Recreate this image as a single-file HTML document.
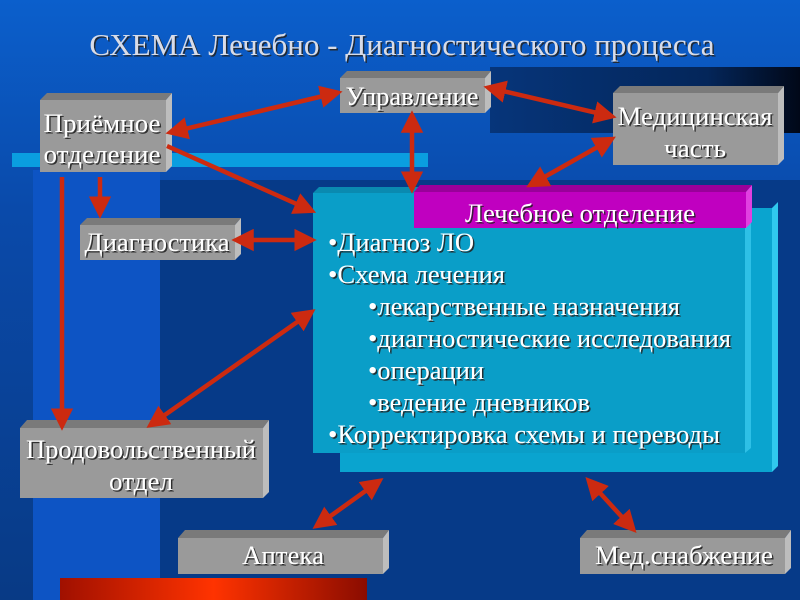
<!DOCTYPE html>
<html><head><meta charset="utf-8"><style>
html,body{margin:0;padding:0;width:800px;height:600px;overflow:hidden;background:#0a3d9a}
svg{display:block}
text{font-family:"Liberation Serif",serif;fill:#fff}
</style></head><body>
<svg width="800" height="600" viewBox="0 0 800 600">
<defs>
<linearGradient id="bg" x1="0" y1="0" x2="0" y2="1"><stop offset="0" stop-color="#0b5fcc"/><stop offset="0.35" stop-color="#0a4aaa"/><stop offset="1" stop-color="#083a85"/></linearGradient>
<linearGradient id="nav" x1="0" y1="0" x2="1" y2="0"><stop offset="0" stop-color="#06357a"/><stop offset="0.7" stop-color="#04265a"/><stop offset="1" stop-color="#010818"/></linearGradient>
<linearGradient id="red" x1="0" y1="0" x2="1" y2="0"><stop offset="0" stop-color="#a01000"/><stop offset="0.5" stop-color="#ff3300"/><stop offset="1" stop-color="#8a0c00"/></linearGradient>
<filter id="sh" x="-5%" y="-5%" width="110%" height="120%"><feDropShadow dx="1.5" dy="1.5" stdDeviation="0" flood-color="#222" flood-opacity="0.9"/></filter>
<marker id="ah" markerWidth="5" markerHeight="5" refX="3.5" refY="2.5" orient="auto-start-reverse" markerUnits="strokeWidth"><path d="M0,0 L5,2.5 L0,5 Z" fill="#cc2a10"/></marker>
</defs>
<rect width="800" height="600" fill="url(#bg)"/>
<rect x="160" y="180" width="640" height="420" fill="#063a88"/>
<rect x="33" y="170" width="127" height="430" fill="#0d54c4"/>
<rect x="490" y="67" width="310" height="66" fill="url(#nav)"/>
<rect x="12" y="153" width="416" height="14" fill="#0a9ee0"/>
<rect x="60" y="578" width="307" height="22" fill="url(#red)"/>

<text x="402" y="55" text-anchor="middle" font-size="31" style="fill:#d8dce8" filter="url(#sh)">СХЕМА Лечебно - Диагностического процесса</text>

<rect x="340" y="208" width="432" height="264" fill="#0aa4cf"/>
<polygon points="772,208 778,202 778,466 772,472" fill="#30c8ee"/>
<rect x="313" y="193" width="432" height="260" fill="#0a9ec8"/>
<polygon points="313,193 319,187 751,187 745,193" fill="#0a8ab0"/>
<polygon points="745,193 751,187 751,448 745,453" fill="#2ec0e6"/>
<rect x="414" y="192" width="332" height="36" fill="#c000c0"/>
<polygon points="414,192 420,185 752,185 746,192" fill="#9a009a"/>
<polygon points="746,192 752,185 752,222 746,228" fill="#e040e0"/>
<g filter="url(#sh)" font-size="26" lengthAdjust="spacingAndGlyphs">
<text x="580" y="222" text-anchor="middle" textLength="230" lengthAdjust="spacingAndGlyphs">Лечебное отделение</text>
<text x="328" y="251" textLength="146" lengthAdjust="spacingAndGlyphs">•Диагноз ЛО</text>
<text x="328" y="283" textLength="177" lengthAdjust="spacingAndGlyphs">•Схема лечения</text>
<text x="368" y="315" textLength="312" lengthAdjust="spacingAndGlyphs">•лекарственные назначения</text>
<text x="368" y="347" textLength="363" lengthAdjust="spacingAndGlyphs">•диагностические исследования</text>
<text x="368" y="379" textLength="116" lengthAdjust="spacingAndGlyphs">•операции</text>
<text x="368" y="411" textLength="222" lengthAdjust="spacingAndGlyphs">•ведение дневников</text>
<text x="328" y="443" textLength="392" lengthAdjust="spacingAndGlyphs">•Корректировка схемы и переводы</text>
</g>

<g>
<polygon points="40,100 47,93 172,93 166,100" fill="#7a7a7a"/><polygon points="166,100 172,93 172,166 166,172" fill="#bdbdbd"/><rect x="40" y="100" width="126" height="72" fill="#9a9a9a"/>
<polygon points="340,78 347,71 491,71 485,78" fill="#7a7a7a"/><polygon points="485,78 491,71 491,107 485,113" fill="#bdbdbd"/><rect x="340" y="78" width="145" height="35" fill="#9a9a9a"/>
<polygon points="613,93 620,86 784,86 778,93" fill="#7a7a7a"/><polygon points="778,93 784,86 784,159 778,165" fill="#bdbdbd"/><rect x="613" y="93" width="165" height="72" fill="#9a9a9a"/>
<polygon points="80,225 87,218 241,218 235,225" fill="#7a7a7a"/><polygon points="235,225 241,218 241,254 235,260" fill="#bdbdbd"/><rect x="80" y="225" width="155" height="35" fill="#9a9a9a"/>
<polygon points="20,428 27,420 269,420 263,428" fill="#7a7a7a"/><polygon points="263,428 269,420 269,492 263,498" fill="#bdbdbd"/><rect x="20" y="428" width="243" height="70" fill="#9a9a9a"/>
<polygon points="178,538 185,530 389,530 383,538" fill="#7a7a7a"/><polygon points="383,538 389,530 389,568 383,574" fill="#bdbdbd"/><rect x="178" y="538" width="205" height="36" fill="#9a9a9a"/>
<polygon points="580,538 587,530 791,530 785,538" fill="#7a7a7a"/><polygon points="785,538 791,530 791,568 785,574" fill="#bdbdbd"/><rect x="580" y="538" width="205" height="36" fill="#9a9a9a"/>
</g>
<g filter="url(#sh)" font-size="26">
<text x="102" y="132" text-anchor="middle" textLength="117" lengthAdjust="spacingAndGlyphs">Приёмное</text>
<text x="102" y="163" text-anchor="middle" textLength="117" lengthAdjust="spacingAndGlyphs">отделение</text>
<text x="412" y="105" text-anchor="middle" textLength="133" lengthAdjust="spacingAndGlyphs">Управление</text>
<text x="695" y="125" text-anchor="middle" textLength="155" lengthAdjust="spacingAndGlyphs">Медицинская</text>
<text x="695" y="157" text-anchor="middle" textLength="62" lengthAdjust="spacingAndGlyphs">часть</text>
<text x="157" y="251" textLength="145" text-anchor="middle" lengthAdjust="spacingAndGlyphs">Диагностика</text>
<text x="141" y="458" text-anchor="middle" textLength="230" lengthAdjust="spacingAndGlyphs">Продовольственный</text>
<text x="141" y="490" text-anchor="middle" textLength="64" lengthAdjust="spacingAndGlyphs">отдел</text>
<text x="283" y="564" text-anchor="middle" textLength="82" lengthAdjust="spacingAndGlyphs">Аптека</text>
<text x="684" y="564" text-anchor="middle" textLength="178" lengthAdjust="spacingAndGlyphs">Мед.снабжение</text>
</g>

<g stroke="#cc2a10" stroke-width="4.5" fill="none">
<line x1="172" y1="132" x2="336" y2="93" marker-start="url(#ah)" marker-end="url(#ah)"/>
<line x1="490" y1="88" x2="610" y2="116" marker-start="url(#ah)" marker-end="url(#ah)"/>
<line x1="412" y1="117" x2="412" y2="187" marker-start="url(#ah)" marker-end="url(#ah)"/>
<line x1="610" y1="140" x2="532" y2="184" marker-start="url(#ah)" marker-end="url(#ah)"/>
<line x1="167" y1="146" x2="310" y2="210" marker-end="url(#ah)"/>
<line x1="100" y1="177" x2="100" y2="212" marker-end="url(#ah)"/>
<line x1="62" y1="177" x2="62" y2="424" marker-end="url(#ah)"/>
<line x1="238" y1="240" x2="310" y2="240" marker-start="url(#ah)" marker-end="url(#ah)"/>
<line x1="152" y1="424" x2="310" y2="313" marker-start="url(#ah)" marker-end="url(#ah)"/>
<line x1="318" y1="525" x2="378" y2="482" marker-start="url(#ah)" marker-end="url(#ah)"/>
<line x1="590" y1="482" x2="632" y2="528" marker-start="url(#ah)" marker-end="url(#ah)"/>
</g>
</svg>
</body></html>
